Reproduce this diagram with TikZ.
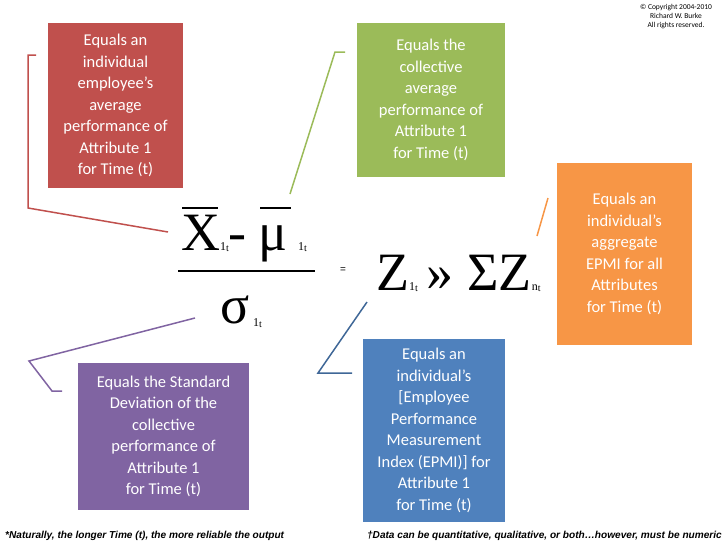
\documentclass[tikz,border=0pt]{standalone}
\usepackage{fontspec}
\setmainfont{Carlito}
\newfontfamily\formfont{Liberation Serif}
\newfontfamily\notefont{Liberation Sans}
\usetikzlibrary{positioning}
\definecolor{boxred}{HTML}{C0504D}
\definecolor{boxgreen}{HTML}{9BBB59}
\definecolor{boxorange}{HTML}{F79646}
\definecolor{boxpurple}{HTML}{8064A2}
\definecolor{boxblue}{HTML}{4F81BD}
\tikzset{
  infobox/.style={fill=#1, text=white, align=center, inner sep=0pt,
    font=\fontsize{16.5}{21.5}\selectfont},
  callout/.style={draw=#1, line width=1.5pt},
  formula/.style={font=\formfont\fontsize{54}{54}\selectfont, inner sep=0pt},
  note/.style={font=\notefont\bfseries\itshape\fontsize{10.1}{11}\selectfont, inner sep=0pt}
}
\newcommand{\idx}[2]{{\fontsize{12}{12}\selectfont#1\raisebox{-0.35ex}{\fontsize{10}{10}\selectfont#2}}}
\begin{document}
\begin{tikzpicture}[x=1pt,y=-1pt]
\useasboundingbox (0,0) rectangle (728,546);

\node[infobox=boxred, minimum width=135, minimum height=165] (avg) at (115.5,105.5)
  {Equals an\\individual\\employee’s\\average\\performance of\\Attribute 1\\ for Time (t)};
\node[infobox=boxgreen, minimum width=148, minimum height=154] (coll) at (431,100)
  {Equals the\\collective\\average\\performance of\\Attribute 1\\for Time (t)};
\node[infobox=boxorange, minimum width=135, minimum height=182] (aggr) at (624.5,254)
  {Equals an\\individual’s\\aggregate\\EPMI for all\\Attributes\\for Time (t)};
\node[infobox=boxpurple, minimum width=171, minimum height=147] (dev) at (163.5,436.5)
  {Equals the Standard\\Deviation of the\\collective\\performance of\\Attribute 1\\for Time (t)};
\node[infobox=boxblue, minimum width=142, minimum height=183] (epmi) at (434,430.5)
  {Equals an\\individual’s\\{[}Employee\\Performance\\Measurement\\Index (EPMI)] for\\Attribute 1\\for Time (t)};

% formula
\node[formula, anchor=base west] (xbar) at (181,250) {X\idx{1}{t}-};
\node[formula, anchor=base west] (mubar) at (258,250) {μ};
\node[formula, anchor=base west] (musub) at (298,250) {\idx{1}{t}};
\draw[line width=1.2pt] (182,208) -- (218,208) (260,208) -- (291,208);
\node[formula, anchor=base west] (sigma) at (220,323) {σ};
\node[formula, anchor=base west] (sigsub) at (253,326) {\idx{1}{t}};
\draw[line width=1.6pt] (178,271) -- (315,271);
\node[font=\notefont\fontsize{10}{10}\selectfont] (eq) at (343,270) {=};
\node[formula, anchor=base west] (zone) at (376,290) {Z\idx{1}{t}\,» ΣZ\idx{n}{t}};

% callout lines
\draw[callout=boxred] (36,55) -- (28,55) -- (28,208) -- (168,232);
\draw[callout=boxgreen] (345,52) -- (335,52) -- (290,194);
\draw[callout=boxorange] (548,198) -- (537,236);
\draw[callout=boxpurple] (62,391) -- (52,391) -- (29,361) -- (195,318);
\draw[callout=boxblue!80!black] (352,373) -- (318,373) -- (367,302);

\node[font=\fontsize{7.5}{9}\selectfont, align=center] (copy) at (676,17)
  {© Copyright 2004-2010\\Richard W. Burke\\All rights reserved.};
\node[note, anchor=west] (foot1) at (5,536) {*Naturally, the longer Time (t), the more reliable the output};
\node[note, anchor=east] (foot2) at (722,536) {†Data can be quantitative, qualitative, or both…however, must be numeric};
\end{tikzpicture}
\end{document}
